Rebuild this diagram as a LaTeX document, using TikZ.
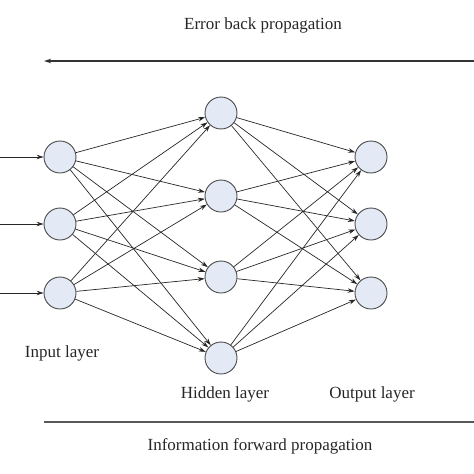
\documentclass[tikz,border=0pt]{standalone}
\usepackage{fontspec}
\setmainfont{Liberation Serif}
\usetikzlibrary{arrows.meta}
\definecolor{nodefill}{HTML}{E3EAF6}
\definecolor{nodeline}{HTML}{4A4A4A}

\begin{document}
\begin{tikzpicture}[x=1pt, y=-1pt,
    neuron/.style={circle, draw=nodeline, fill=nodefill, minimum size=32pt, inner sep=0pt, line width=0.9pt},
    link/.style={-{Stealth[length=7pt,width=4.5pt]}, draw=black!85, line width=0.7pt},
    label/.style={font=\fontsize{17}{19}\selectfont, text=black!85}]
      \useasboundingbox (0,0) rectangle (474,474);

      % layers
      \node[neuron] (i1) at (60,157) {};
      \node[neuron] (i2) at (60,224) {};
      \node[neuron] (i3) at (60,293) {};
      \node[neuron] (h1) at (221,113) {};
      \node[neuron] (h2) at (221,196) {};
      \node[neuron] (h3) at (221,277) {};
      \node[neuron] (h4) at (221,358) {};
      \node[neuron] (o1) at (371,157) {};
      \node[neuron] (o2) at (371,224) {};
      \node[neuron] (o3) at (371,293) {};

      \coordinate (s1) at (0,157);
      \coordinate (s2) at (0,224);
      \coordinate (s3) at (0,293);

      \foreach \i in {1,2,3} {
        \draw[link] (s\i) -- (i\i);
        \foreach \h in {1,2,3,4} {
          \draw[link] (i\i) -- (h\h);
          \draw[link] (h\h) -- (o\i);
        }
      }

      % labels
      \node[label] (err) at (263,25) {Error back propagation};
      \node[label] (inp) at (62,353) {Input layer};
      \node[label] (hid) at (225,394) {Hidden layer};
      \node[label] (out) at (372,394) {Output layer};
      \node[label] (inf) at (260,446) {Information forward propagation};

      % propagation lines
      \coordinate (eb) at (474,61);
      \coordinate (ea) at (44,61);
      \coordinate (fa) at (44,422);
      \coordinate (fb) at (474,422);
      \draw[-{Stealth[length=7pt,width=4.5pt]}, black!80, line width=1.1pt] (eb) -- (ea);
      \draw[black!65, line width=1.1pt] (fa) -- (fb);
    \end{tikzpicture}
\end{document}
